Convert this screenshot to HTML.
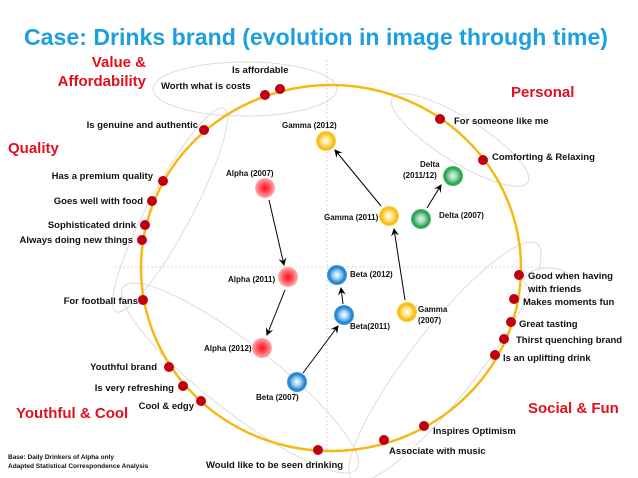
<!DOCTYPE html>
<html><head><meta charset="utf-8"><style>
html,body{margin:0;padding:0;background:#fff;width:638px;height:478px;overflow:hidden;}
svg{display:block;font-family:"Liberation Sans",sans-serif;}
.l{font-size:9.5px;font-weight:bold;fill:#111;}
.s{font-size:8px;font-weight:bold;fill:#111;}
.c{font-size:15px;font-weight:bold;fill:#e0101e;}
</style></head><body>
<svg width="638" height="478" viewBox="0 0 638 478">
<defs>
<radialGradient id="gr"><stop offset="0" stop-color="#ff1020"/><stop offset="0.5" stop-color="#ff5560"/><stop offset="1" stop-color="#ffb0b5"/></radialGradient>
<radialGradient id="gb"><stop offset="0" stop-color="#fff"/><stop offset="0.45" stop-color="#8cc8ee"/><stop offset="0.8" stop-color="#1d7fd0"/><stop offset="1" stop-color="#4a9ede"/></radialGradient>
<radialGradient id="gy"><stop offset="0" stop-color="#fff"/><stop offset="0.45" stop-color="#ffe27a"/><stop offset="0.8" stop-color="#f7b90f"/><stop offset="1" stop-color="#fbd04a"/></radialGradient>
<radialGradient id="gg"><stop offset="0" stop-color="#e8f5ec"/><stop offset="0.45" stop-color="#8fcfa3"/><stop offset="0.8" stop-color="#22a052"/><stop offset="1" stop-color="#4cba72"/></radialGradient>
<marker id="a" markerWidth="8" markerHeight="8" refX="7" refY="4" orient="auto" markerUnits="userSpaceOnUse"><path d="M0,0 L8,4 L0,8 L3,4 z" fill="#000"/></marker>
</defs>
<text x="316" y="45" text-anchor="middle" font-size="23" font-weight="bold" fill="#1ea0dc" textLength="584" lengthAdjust="spacingAndGlyphs">Case: Drinks brand (evolution in image through time)</text>
<g fill="none" stroke="#dcdcdc" stroke-width="1">
<ellipse cx="245" cy="89" rx="92" ry="27"/>
<ellipse cx="170" cy="210" rx="115" ry="22" transform="rotate(-62 170 210)"/>
<ellipse cx="460" cy="140" rx="80" ry="22" transform="rotate(32 460 140)"/>
<ellipse cx="240" cy="378" rx="148" ry="34" transform="rotate(38 240 378)"/>
<ellipse cx="445" cy="362" rx="150" ry="34" transform="rotate(-52 445 362)"/>
<ellipse cx="548" cy="280" rx="24" ry="12"/>
</g>
<g stroke="#ccc" stroke-width="0.8" stroke-dasharray="2,2">
<line x1="115" y1="267" x2="545" y2="267"/>
<line x1="327" y1="60" x2="327" y2="455"/>
</g>
<ellipse cx="331" cy="268" rx="190" ry="183" fill="none" stroke="#f5b915" stroke-width="2.5"/>
<g fill="#c00010">
<circle cx="265" cy="95" r="5"/><circle cx="280" cy="89" r="5"/><circle cx="204" cy="130" r="5"/><circle cx="440" cy="119" r="5"/><circle cx="483" cy="160" r="5"/><circle cx="163" cy="181" r="5"/><circle cx="152" cy="201" r="5"/><circle cx="145" cy="225" r="5"/><circle cx="142" cy="240" r="5"/><circle cx="143" cy="300" r="5"/><circle cx="519" cy="275" r="5"/><circle cx="514" cy="299" r="5"/><circle cx="511" cy="322" r="5"/><circle cx="504" cy="339" r="5"/><circle cx="495" cy="355" r="5"/><circle cx="169" cy="367" r="5"/><circle cx="183" cy="386" r="5"/><circle cx="201" cy="401" r="5"/><circle cx="318" cy="450" r="5"/><circle cx="384" cy="440" r="5"/><circle cx="424" cy="426" r="5"/>
</g>
<g class="c">
<text x="146" y="67" text-anchor="end">Value &amp;</text>
<text x="146" y="86" text-anchor="end">Affordability</text>
<text x="8" y="153">Quality</text>
<text x="511" y="97">Personal</text>
<text x="16" y="418">Youthful &amp; Cool</text>
<text x="528" y="413">Social &amp; Fun</text>
</g>
<g class="l">
<text x="232" y="73">Is affordable</text>
<text x="161" y="89">Worth what is costs</text>
<text x="198" y="128" text-anchor="end">Is genuine and authentic</text>
<text x="153" y="179" text-anchor="end">Has a premium quality</text>
<text x="143" y="204" text-anchor="end">Goes well with food</text>
<text x="136" y="228" text-anchor="end">Sophisticated drink</text>
<text x="133" y="243" text-anchor="end">Always doing new things</text>
<text x="138" y="304" text-anchor="end">For football fans</text>
<text x="157" y="370" text-anchor="end">Youthful brand</text>
<text x="174" y="391" text-anchor="end">Is very refreshing</text>
<text x="194" y="409" text-anchor="end">Cool &amp; edgy</text>
<text x="206" y="468">Would like to be seen drinking</text>
<text x="389" y="454">Associate with music</text>
<text x="433" y="434">Inspires Optimism</text>
<text x="454" y="124">For someone like me</text>
<text x="492" y="160">Comforting &amp; Relaxing</text>
<text x="528" y="279">Good when having</text>
<text x="528" y="292">with friends</text>
<text x="523" y="305">Makes moments fun</text>
<text x="519" y="327">Great tasting</text>
<text x="516" y="343">Thirst quenching brand</text>
<text x="503" y="361">Is an uplifting drink</text>
</g>
<g class="s" style="font-size:6.5px">
<text x="8" y="459">Base: Daily Drinkers of Alpha only</text>
<text x="8" y="468">Adapted Statistical Correspondence Analysis</text>
</g>
<g class="s">
<text x="226" y="176">Alpha (2007)</text>
<text x="228" y="282">Alpha (2011)</text>
<text x="204" y="351">Alpha (2012)</text>
<text x="256" y="400">Beta (2007)</text>
<text x="350" y="329">Beta(2011)</text>
<text x="350" y="277">Beta (2012)</text>
<text x="418" y="312">Gamma</text>
<text x="418" y="323">(2007)</text>
<text x="324" y="220">Gamma (2011)</text>
<text x="282" y="128">Gamma (2012)</text>
<text x="439" y="218">Delta (2007)</text>
<text x="420" y="167">Delta</text>
<text x="403" y="178">(2011/12)</text>
</g>
<g>
<circle cx="265" cy="188" r="10" fill="url(#gr)"/>
<circle cx="288" cy="277" r="10" fill="url(#gr)"/>
<circle cx="262" cy="348" r="10" fill="url(#gr)"/>
<circle cx="297" cy="382" r="10" fill="url(#gb)"/>
<circle cx="344" cy="315" r="10" fill="url(#gb)"/>
<circle cx="337" cy="275" r="10" fill="url(#gb)"/>
<circle cx="407" cy="312" r="10" fill="url(#gy)"/>
<circle cx="389" cy="216" r="10" fill="url(#gy)"/>
<circle cx="326" cy="141" r="10" fill="url(#gy)"/>
<circle cx="421" cy="219" r="10" fill="url(#gg)"/>
<circle cx="453" cy="176" r="10" fill="url(#gg)"/>
</g>
<g stroke="#000" stroke-width="1" marker-end="url(#a)">
<line x1="269" y1="200" x2="284" y2="265"/>
<line x1="285" y1="290" x2="267" y2="335"/>
<line x1="303" y1="373" x2="338" y2="326"/>
<line x1="343" y1="304" x2="341" y2="288"/>
<line x1="405" y1="300" x2="394" y2="229"/>
<line x1="381" y1="206" x2="335" y2="150"/>
<line x1="427" y1="208" x2="441" y2="185"/>
</g>
</svg>
</body></html>
